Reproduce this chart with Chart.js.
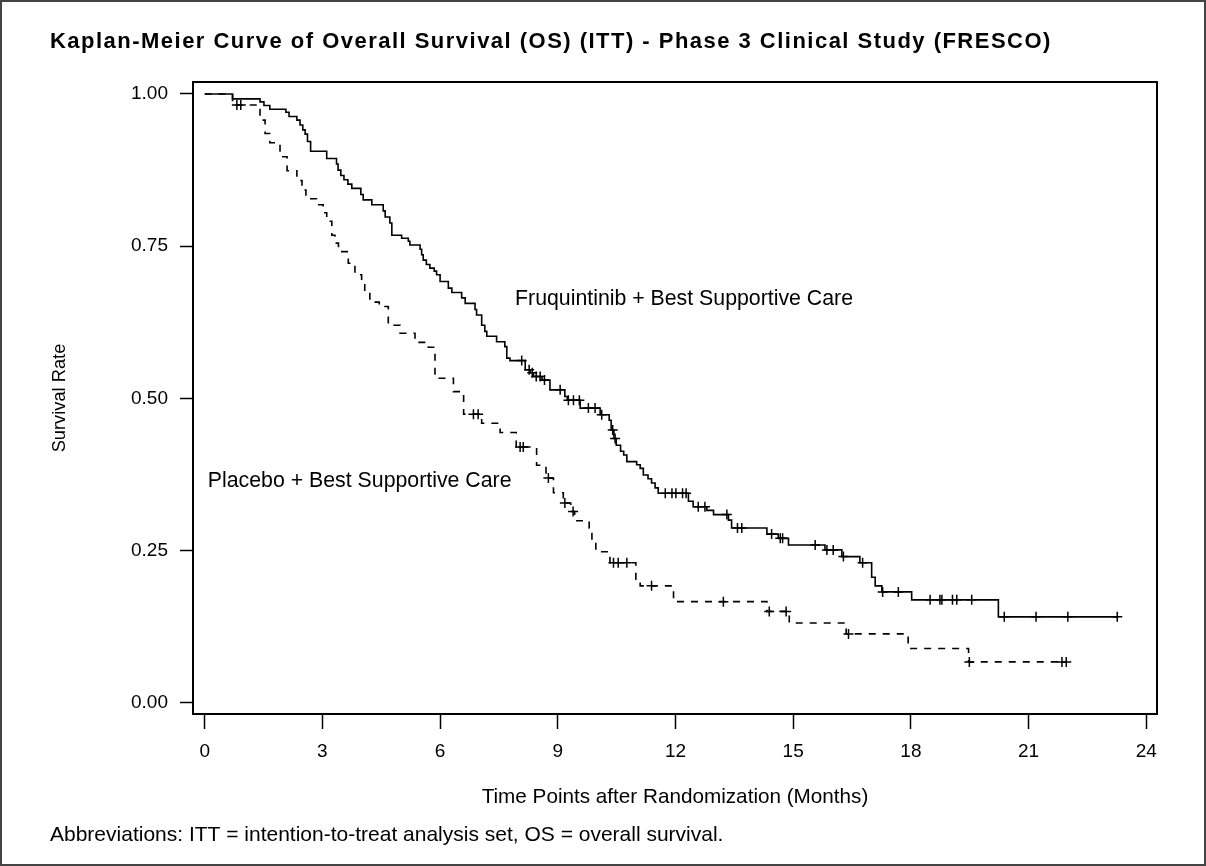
<!DOCTYPE html>
<html>
<head>
<meta charset="utf-8">
<script src="https://cdn.jsdelivr.net/npm/chart.js@4/dist/chart.umd.min.js"></script>
<style>
  html, body { margin: 0; padding: 0; background: #fff; }
  #wrap { width: 1206px; height: 866px; position: relative; }
  canvas { display: block; }
</style>
</head>
<body>
<div id="wrap"><canvas id="c" width="1206" height="866"></canvas></div>
<script>
// ---- Data ----
const fruqTime = [0, 0.71, 1.41, 1.51, 1.66, 2.07, 2.15, 2.35, 2.43, 2.50, 2.56, 2.62, 2.70, 3.11, 3.36, 3.40, 3.47, 3.55, 3.65, 3.75, 3.98, 4.04, 4.26, 4.55, 4.60, 4.72, 4.77, 5.02, 5.19, 5.23, 5.49, 5.53, 5.57, 5.65, 5.74, 5.85, 5.91, 6.00, 6.21, 6.30, 6.55, 6.64, 6.89, 6.93, 7.06, 7.14, 7.19, 7.44, 7.65, 7.70, 7.78, 8.17, 8.30, 8.38, 8.60, 8.80, 9.18, 9.24, 9.57, 10.08, 10.31, 10.36, 10.43, 10.49, 10.60, 10.68, 10.76, 11.01, 11.10, 11.18, 11.30, 11.39, 11.48, 11.56, 12.33, 12.45, 12.80, 12.97, 13.35, 13.43, 14.33, 14.62, 14.88, 15.81, 16.24, 16.70, 17.00, 17.09, 17.26, 18.02, 20.23, 23.26];
const fruqSurv = [1.0, 0.992, 0.987, 0.981, 0.975, 0.970, 0.963, 0.957, 0.949, 0.941, 0.934, 0.922, 0.906, 0.894, 0.885, 0.875, 0.866, 0.859, 0.852, 0.845, 0.835, 0.826, 0.818, 0.808, 0.798, 0.788, 0.768, 0.763, 0.758, 0.752, 0.745, 0.736, 0.727, 0.720, 0.714, 0.709, 0.703, 0.692, 0.681, 0.674, 0.665, 0.656, 0.646, 0.637, 0.620, 0.610, 0.602, 0.593, 0.585, 0.566, 0.562, 0.547, 0.542, 0.536, 0.530, 0.514, 0.503, 0.497, 0.484, 0.473, 0.464, 0.448, 0.434, 0.423, 0.413, 0.407, 0.396, 0.391, 0.385, 0.374, 0.368, 0.361, 0.353, 0.344, 0.331, 0.322, 0.316, 0.309, 0.300, 0.287, 0.277, 0.270, 0.259, 0.251, 0.240, 0.230, 0.206, 0.192, 0.182, 0.169, 0.141, 0.141];
const fruqCensor = [8.08, 8.27, 8.35, 8.45, 8.55, 8.66, 9.06, 9.27, 9.40, 9.55, 9.78, 9.95, 10.12, 10.40, 10.46, 11.74, 11.91, 12.01, 12.18, 12.27, 12.58, 12.75, 13.31, 13.58, 13.69, 14.45, 14.67, 14.73, 15.56, 15.86, 16.02, 16.28, 16.77, 17.28, 17.68, 18.49, 18.74, 18.79, 19.06, 19.17, 19.55, 20.38, 21.19, 22.00, 23.26];

const placTime = [0, 0.71, 1.41, 1.54, 1.66, 1.92, 2.10, 2.35, 2.48, 2.58, 2.85, 3.02, 3.11, 3.24, 3.32, 3.41, 3.66, 3.83, 4.00, 4.08, 4.21, 4.45, 4.68, 4.98, 5.36, 5.70, 5.87, 6.34, 6.60, 7.06, 7.53, 7.94, 8.46, 8.70, 8.89, 9.14, 9.33, 9.43, 9.80, 9.87, 9.97, 10.33, 10.99, 11.10, 11.95, 14.33, 14.90, 16.35, 17.93, 19.47, 21.97];
const placSurv = [1.0, 0.982, 0.957, 0.935, 0.920, 0.897, 0.874, 0.858, 0.842, 0.828, 0.818, 0.805, 0.791, 0.768, 0.755, 0.741, 0.722, 0.703, 0.688, 0.675, 0.658, 0.651, 0.620, 0.607, 0.592, 0.584, 0.533, 0.511, 0.474, 0.459, 0.444, 0.420, 0.390, 0.369, 0.345, 0.328, 0.314, 0.299, 0.287, 0.265, 0.248, 0.230, 0.203, 0.192, 0.166, 0.150, 0.131, 0.113, 0.089, 0.067, 0.067];
const placCensor = [0.82, 0.92, 6.85, 6.97, 8.04, 8.12, 8.76, 9.18, 9.39, 10.42, 10.54, 10.76, 11.39, 13.22, 14.39, 14.82, 16.41, 19.49, 21.85, 21.96];

const xTicks = [0, 3, 6, 9, 12, 15, 18, 21, 24];
const xTickLabels = ['0', '3', '6', '9', '12', '15', '18', '21', '24'];
const yTicks = [0, 0.25, 0.5, 0.75, 1.0];
const yTickLabels = ['0.00', '0.25', '0.50', '0.75', '1.00'];

const titleText = 'Kaplan-Meier Curve of Overall Survival (OS) (ITT) - Phase 3 Clinical Study (FRESCO)';
const xTitle = 'Time Points after Randomization (Months)';
const yTitle = 'Survival Rate';
const footText = 'Abbreviations: ITT = intention-to-treat analysis set, OS = overall survival.';
const curveLabels = ['Fruquintinib + Best Supportive Care', 'Placebo + Best Supportive Care'];
const curveLabelX = [7.91, 0.08];
const curveLabelY = [0.663, 0.364];

// ---- helpers ----
function stepPoints(times, surv) { return times.map((t, i) => ({ x: t, y: surv[i] })); }
function survAt(times, surv, t) {
  let s = surv[0];
  for (let i = 0; i < times.length; i++) { if (times[i] <= t) s = surv[i]; else break; }
  return s;
}
function censorPoints(ct, times, surv) { return ct.map(t => ({ x: t, y: survAt(times, surv, t) })); }

const FONT = '"Liberation Sans", Arial, Helvetica, sans-serif';

const framePlugin = {
  id: 'frame',
  beforeDraw(chart) {
    const ctx = chart.ctx;
    ctx.save();
    ctx.fillStyle = '#fff';
    ctx.fillRect(0, 0, chart.width, chart.height);
    ctx.restore();
  },
  afterDraw(chart) {
    const ctx = chart.ctx, a = chart.chartArea;
    ctx.save();
    ctx.strokeStyle = '#000';
    ctx.lineWidth = 2;
    ctx.strokeRect(a.left, a.top, a.right - a.left, a.bottom - a.top);
    ctx.strokeStyle = '#444';
    ctx.lineWidth = 2;
    ctx.strokeRect(1, 1, chart.width - 2, chart.height - 2);
    // chart title
    ctx.fillStyle = '#000';
    ctx.font = 'bold 22px ' + FONT;
    ctx.textAlign = 'left';
    ctx.textBaseline = 'middle';
    if ('letterSpacing' in ctx) ctx.letterSpacing = '1.48px';
    ctx.fillText(titleText, 50, 42);
    ctx.restore();
  },
  afterDatasetsDraw(chart) {
    const ctx = chart.ctx, xs = chart.scales.x, ys = chart.scales.y;
    ctx.save();
    ctx.fillStyle = '#000';
    ctx.font = '21.3px ' + FONT;
    ctx.textAlign = 'left';
    ctx.textBaseline = 'middle';
    curveLabels.forEach((txt, i) => {
      ctx.fillText(txt, xs.getPixelForValue(curveLabelX[i]), ys.getPixelForValue(curveLabelY[i]));
    });
    ctx.restore();
  }
};

new Chart(document.getElementById('c'), {
  type: 'line',
  data: {
    datasets: [
      { label: 'Fruquintinib', data: stepPoints(fruqTime, fruqSurv), stepped: 'before', borderColor: '#000', borderWidth: 1.6, pointRadius: 0, fill: false },
      { label: 'Placebo', data: stepPoints(placTime, placSurv), stepped: 'before', borderColor: '#000', borderWidth: 1.6, borderDash: [7, 7], pointRadius: 0, fill: false },
      { label: 'Fruq censored', data: censorPoints(fruqCensor, fruqTime, fruqSurv), showLine: false, pointStyle: 'cross', pointRadius: 5, pointBorderWidth: 1.5, borderColor: '#000', backgroundColor: '#000' },
      { label: 'Plac censored', data: censorPoints(placCensor, placTime, placSurv), showLine: false, pointStyle: 'cross', pointRadius: 5, pointBorderWidth: 1.5, borderColor: '#000', backgroundColor: '#000' }
    ]
  },
  options: {
    responsive: false,
    animation: false,
    devicePixelRatio: 1,
    layout: { padding: { left: 50, right: 49, top: 82, bottom: 0 } },
    plugins: {
      legend: { display: false },
      tooltip: { enabled: false },
      title: { display: false },
      subtitle: {
        display: true, text: footText, position: 'bottom', align: 'start', color: '#000',
        font: { family: FONT, size: 21, lineHeight: 1.2 },
        padding: { top: 10.4, bottom: 18.4 }
      }
    },
    scales: {
      x: {
        type: 'linear', min: -0.298, max: 24.273,
        afterBuildTicks(s) { s.ticks = xTicks.map(v => ({ value: v })); },
        afterFit(s) { s.height = 98; },
        border: { display: false },
        grid: { drawOnChartArea: false, drawTicks: true, tickLength: 15, tickWidth: 1.5, tickColor: '#000' },
        ticks: { color: '#000', font: { family: FONT, size: 19 }, padding: 11, maxRotation: 0, autoSkip: false,
                 callback(v, i) { return xTickLabels[i]; } },
        title: { display: true, text: xTitle, color: '#000', font: { family: FONT, size: 20.7 }, padding: { top: 0, bottom: 2.6 } }
      },
      y: {
        type: 'linear', min: -0.01856, max: 1.0197,
        afterBuildTicks(s) { s.ticks = yTicks.map(v => ({ value: v })); },
        afterFit(s) { s.width = 143; },
        border: { display: false },
        grid: { drawOnChartArea: false, drawTicks: true, tickLength: 13, tickWidth: 1.5, tickColor: '#000' },
        ticks: { color: '#000', font: { family: FONT, size: 19 }, padding: 12, autoSkip: false,
                 callback(v, i) { return yTickLabels[i]; } },
        title: { display: true, text: yTitle, color: '#000', font: { family: FONT, size: 18.3 }, padding: { top: -1, bottom: 0 } }
      }
    }
  },
  plugins: [framePlugin]
});
</script>
</body>
</html>
